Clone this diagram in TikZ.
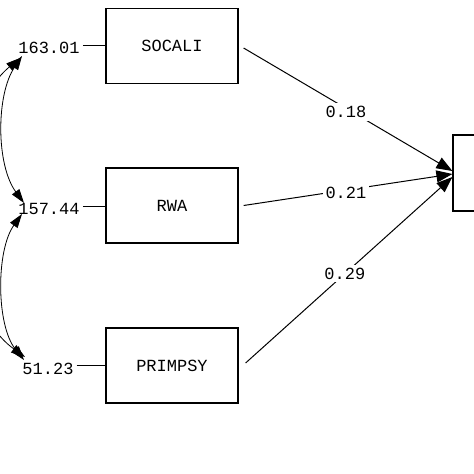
\documentclass[tikz,border=0pt]{standalone}
\usepackage{fontspec}
\setmonofont{Liberation Mono}
\usetikzlibrary{arrows.meta}
\begin{document}
\begin{tikzpicture}[x=1pt,y=-1pt,
  varbox/.style={draw,line width=1.2pt,minimum width=132pt,minimum height=75pt,inner sep=0pt,
    font=\fontsize{17}{17}\selectfont\ttfamily},
  errlab/.style={inner sep=0pt,font=\fontsize{17}{17}\selectfont\ttfamily},
  coef/.style={fill=white,inner sep=3pt,font=\fontsize{17}{17}\selectfont\ttfamily},
  conn/.style={line width=0.9pt},
  arr/.style={line width=1pt,-{Triangle[length=16pt,width=12pt]}},
  covarr/.style={line width=0.8pt,{Triangle[length=14pt,width=9pt]}-{Triangle[length=14pt,width=9pt]}}]
\useasboundingbox (0,0) rectangle (474,474);
\clip (0,0) rectangle (474,474);
\fill[white] (0,0) rectangle (474,474);

\node[varbox] (socali) at (172,46) {SOCALI};
\node[varbox] (rwa) at (172,205.5) {RWA};
\node[varbox] (primpsy) at (172,365.5) {PRIMPSY};
\node[draw,line width=1.2pt,minimum width=40pt,minimum height=76pt,inner sep=0pt] (out) at (473,173) {};

\node[errlab] (e1) at (49,48) {163.01};
\node[errlab] (e2) at (49,209) {157.44};
\node[errlab] (e3) at (48,369) {51.23};

\draw[conn] (e1.east) ++(3,-3) coordinate (e1r) -- (e1r -| socali.west);
\draw[conn] (e2.east) ++(3,-3) coordinate (e2r) -- (e2r -| rwa.west);
\draw[conn] (e3.east) ++(3,-4) coordinate (e3r) -- (e3r -| primpsy.west);

\coordinate (c1) at (22,56);
\coordinate (c1b) at (20,58);
\coordinate (c2a) at (24,203);
\coordinate (c2b) at (22,214);
\coordinate (c3a) at (24,360);
\coordinate (c3b) at (25,357);

\draw[covarr] (c1) .. controls (-4,95) and (-4,165) .. (c2a);
\draw[covarr] (c2b) .. controls (-4,250) and (-4,325) .. (c3a);
\draw[covarr] (c1b) .. controls (-54,120) and (-54,300) .. (c3b);

\draw[arr] ([xshift=5pt,yshift=-2pt]socali.east) -- node[coef,pos=0.49,yshift=-3.5pt] {0.18} ([yshift=2pt]out.west);
\draw[arr] ([xshift=5pt]rwa.east) -- node[coef,pos=0.49,yshift=-3pt] {0.21} ([yshift=-1pt]out.west);
\draw[arr] ([xshift=7pt,yshift=2.5pt]primpsy.east) -- node[coef,pos=0.48] {0.29} ([yshift=-4pt]out.west);
\end{tikzpicture}
\end{document}
